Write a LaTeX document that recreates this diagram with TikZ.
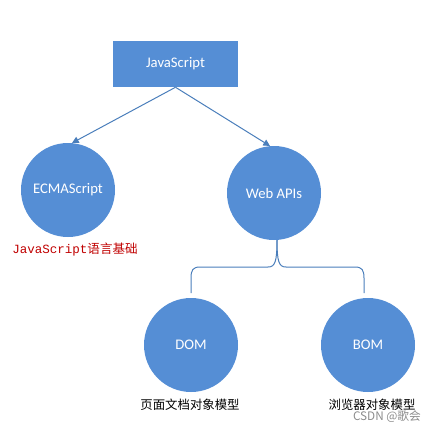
\documentclass[tikz,border=0pt]{standalone}
\usepackage{fontspec}
\setmainfont{Carlito}
\newfontfamily\cjk{Noto Sans CJK SC}
\newfontfamily\monof{Liberation Mono}
\usetikzlibrary{arrows.meta}
\definecolor{boxblue}{HTML}{558ED5}
\definecolor{lineblue}{HTML}{4A7EBB}
\definecolor{redtxt}{HTML}{C00000}
\tikzset{
  px/.style={x=0.75pt,y=-0.75pt},
  blob/.style={circle,fill=boxblue,minimum size=70.5pt,inner sep=0pt,text=white,font=\fontsize{11}{13}\selectfont},
  topbox/.style={rectangle,fill=boxblue,minimum width=93.75pt,minimum height=34.5pt,inner sep=0pt,text=white,font=\fontsize{11}{13}\selectfont},
  conn/.style={draw=lineblue,line width=0.75pt},
  arr/.style={conn,-{Triangle[length=5pt,width=5pt]}},
  caplabel/.style={font=\cjk\fontsize{9.3}{11}\selectfont,text=black}
}
\begin{document}
\begin{tikzpicture}[px]
\useasboundingbox (0,0) rectangle (436,432);
\node[topbox] (js) at (175.5,64) {JavaScript};
\node[blob] (ecma) at (68,190) {ECMAScript};
\node[blob] (web) at (274,193) {Web APIs};
\node[blob] (dom) at (191,345) {DOM};
\node[blob] (bom) at (368,345) {BOM};
\node[font=\fontsize{9.4}{11}\selectfont,text=redtxt,anchor=west,inner sep=0pt] (redlab) at (12,250) {\monof JavaScript\cjk 语言基础};
\node[caplabel] (domlab) at (190,405) {页面文档对象模型};
\node[caplabel] (bomlab) at (372,405) {浏览器对象模型};
\node[font=\cjk\fontsize{8.8}{10}\selectfont,text=black!45] (wm) at (387,417) {CSDN @歌会};
\coordinate (tip) at (277,240);
\coordinate (lend) at (191,293);
\coordinate (rend) at (364,293);
\draw[arr] (js.south) -- (72,143);
\draw[arr] (js.south) -- (270,146);
\draw[conn] (tip) .. controls (277,262) and (275,267) .. (268,267) -- (200,267) .. controls (193,267) and (191,270) .. (191,278) -- (lend);
\draw[conn] (tip) .. controls (277,262) and (279,267) .. (286,267) -- (355,267) .. controls (362,267) and (364,270) .. (364,278) -- (rend);
\end{tikzpicture}
\end{document}
